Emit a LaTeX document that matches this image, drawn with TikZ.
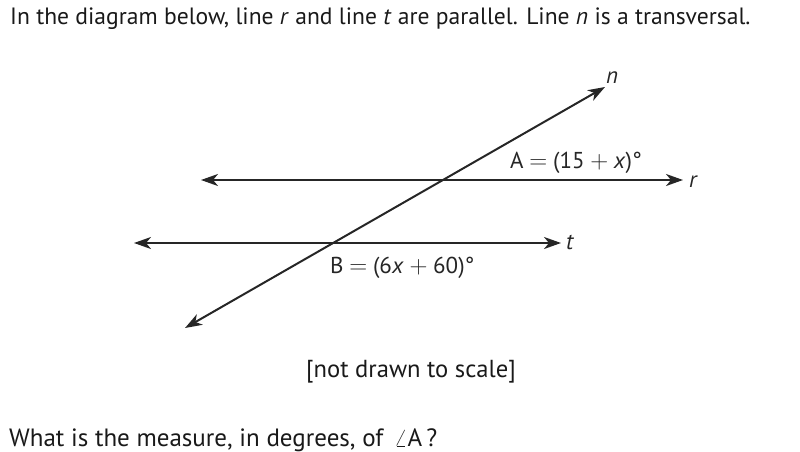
\documentclass[tikz,border=0pt]{standalone}
\usepackage{fontspec}
\setmainfont{PT Sans}
\usetikzlibrary{arrows.meta}
\newcommand{\mysp}{\hspace{0.25em}}
\begin{document}
\begin{tikzpicture}[x=1pt,y=-1pt,
  ln/.style={line width=2pt, draw=black!85,
    {Stealth[length=17pt,width=12pt,inset=5pt]}-{Stealth[length=17pt,width=12pt,inset=5pt]}},
  txt/.style={font=\fontsize{23.6}{28}\selectfont, inner sep=0pt, text=black!90},
  lbl/.style={font=\fontsize{23}{26}\selectfont, inner sep=0pt, text=black!85}]
\useasboundingbox (0,0) rectangle (800,452);
\node[txt, anchor=base west] (q1) at (10,25) {In the diagram below, line \textit{r} and line \textit{t} are parallel. Line \textit{n} is a transversal.};
\coordinate (rL) at (201,180); \coordinate (rR) at (683,180);
\coordinate (tL) at (134,243); \coordinate (tR) at (561,243);
\coordinate (nB) at (185,328); \coordinate (nT) at (605,87);
\draw[ln] (rL) -- (rR);
\draw[ln] (tL) -- (tR);
\draw[ln] (nB) -- (nT);
\node[lbl, anchor=west] (rlab) at (689,182) {\textit{r}};
\node[lbl, anchor=west] (tlab) at (566,242) {\textit{t}};
\node[lbl] (nlab) at (612,78) {\textit{n}};
\node[lbl, anchor=base west] (A) at (510,168) {A\mysp$=$\mysp(15\mysp$+$\mysp\textit{x})°};
\node[lbl, anchor=base west] (B) at (330,273) {B\mysp$=$\mysp(6\textit{x}\mysp$+$\mysp60)°};
\node[txt, font=\fontsize{24.6}{28}\selectfont, anchor=base] (ns) at (411,377) {[not drawn to scale]};
\node[txt, font=\fontsize{25}{28}\selectfont, anchor=base west] (q2) at (9,446) {What is the measure, in degrees, of \,$\angle$A\,?};
\end{tikzpicture}
\end{document}
